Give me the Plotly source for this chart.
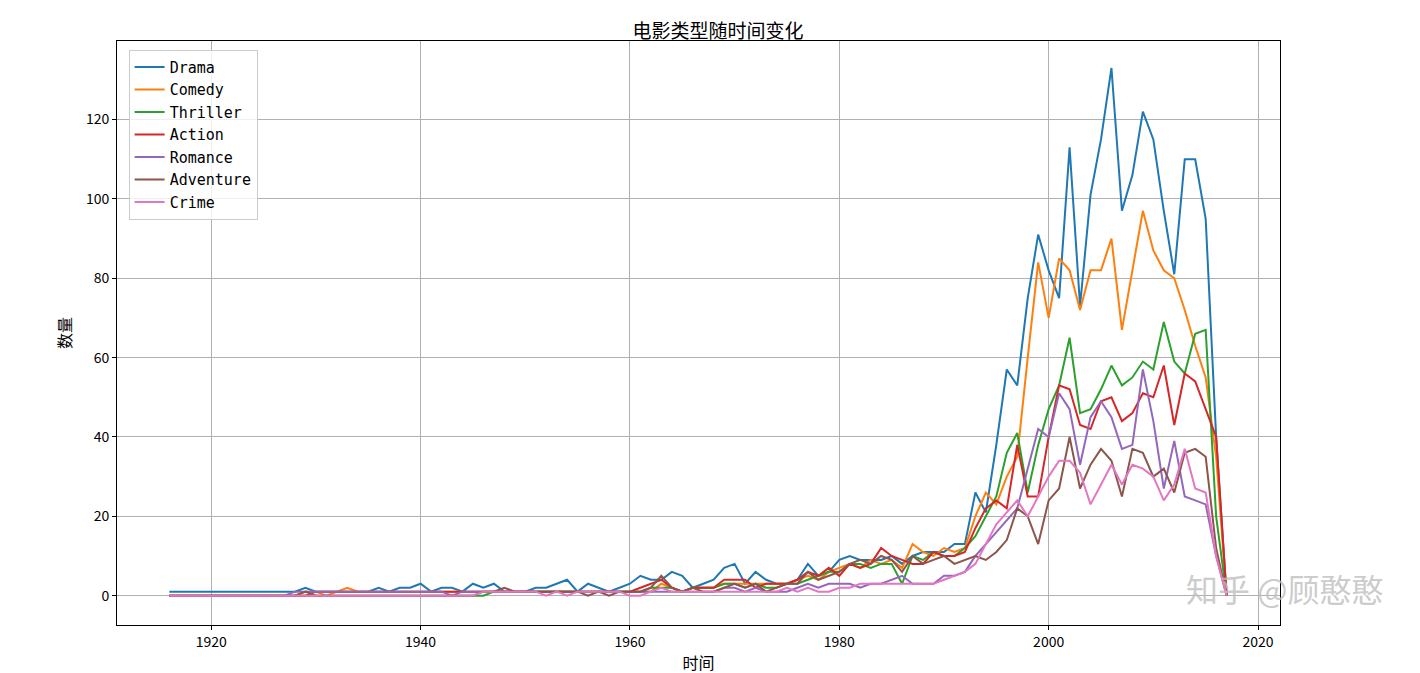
import plotly.graph_objects as go

years = list(range(1916, 2018))

drama_early = [1,1,1,1,1,1,1,1,1,1,1,1,1,2,1,1,1,1,1,1,2,1,2,2,3,1,2,2,1,3,2,3,1,1,1,2,2,3,4,1,3,2,1,2,3,5,4,4,6,5,2,3,4,7,8,3,6,4,3,3,4,8,5,6,9,10,9,9,9,10,8,10,11,11,11,13,13]
comedy_early = [0,0,0,0,0,0,0,0,0,0,0,0,0,1,1,0,1,2,1,1,1,1,1,1,1,1,1,1,1,1,1,1,1,1,1,1,1,1,1,1,1,1,1,1,1,1,1,3,2,1,2,2,2,3,3,3,3,3,3,3,4,5,4,6,7,8,7,9,8,9,7,13,11,10,12,11,12]
thriller_early = [0,0,0,0,0,0,0,0,0,0,0,0,0,0,0,0,0,0,0,0,0,0,0,0,0,0,0,0,0,0,0,1,1,1,1,1,1,1,1,1,1,1,1,1,1,1,2,2,2,1,2,2,2,3,3,2,3,2,2,3,3,4,5,6,6,8,8,7,8,8,3,10,9,11,10,10,12]
action_early = [0,0,0,0,0,0,0,0,0,0,0,0,0,0,1,1,1,1,1,1,1,1,1,1,1,1,1,1,1,1,1,1,1,1,1,1,1,1,1,1,1,1,1,1,1,2,3,4,2,1,2,2,2,4,4,4,2,3,3,3,4,6,5,7,5,8,7,8,12,10,9,8,8,11,10,10,11]
romance_early = [0,0,0,0,0,0,0,0,0,0,0,0,1,1,1,1,1,1,1,1,1,1,1,1,1,1,1,0,1,1,1,1,1,1,1,1,1,1,1,1,1,1,1,1,1,1,1,1,1,1,1,1,1,2,2,1,2,1,1,1,2,3,2,3,3,3,2,3,3,4,5,3,3,3,5,5,6]
adventure_early = [0,0,0,0,0,0,0,0,0,0,0,0,0,1,0,0,0,0,0,0,0,0,0,0,0,0,0,0,0,0,1,1,2,1,1,1,1,1,1,1,0,1,0,1,1,1,2,5,2,1,2,1,1,2,3,2,3,1,2,3,3,6,4,5,6,8,9,8,10,9,6,10,8,9,10,8,9]
crime_early = [0,0,0,0,0,0,0,0,0,0,0,0,0,0,0,0,0,0,0,0,0,0,0,0,0,0,0,0,0,0,1,1,1,1,1,1,0,1,0,1,1,1,1,1,0,0,1,2,1,1,1,1,1,1,1,1,1,1,1,2,1,2,1,1,2,2,3,3,3,3,3,3,3,3,4,5,6]

drama_late = [26,21,38,57,53,75,91,82,75,113,73,101,115,133,97,106,122,115,97,81,110,110,95,40,0]
comedy_late = [20,26,23,30,35,60,84,70,85,82,72,82,82,90,67,82,97,87,82,80,72,63,55,35,0]
thriller_late = [15,20,25,36,41,26,38,47,53,65,46,47,52,58,53,55,59,57,69,59,56,66,67,20,0]
action_late = [17,22,24,22,38,25,25,40,53,52,43,42,49,50,44,46,51,50,58,43,56,54,47,40,0]
romance_late = [10,13,16,19,22,32,42,40,51,47,33,45,49,45,37,38,57,44,27,39,25,24,23,10,0]
adventure_late = [10,9,11,14,22,20,13,24,27,40,27,33,37,34,25,37,36,30,32,26,36,37,35,12,0]
crime_late = [8,13,18,21,24,20,25,30,34,34,31,23,28,33,28,33,32,30,24,28,37,27,26,10,0]

names = ["Drama", "Comedy", "Thriller", "Action", "Romance", "Adventure", "Crime"]
series = [drama_early + drama_late, comedy_early + comedy_late, thriller_early + thriller_late,
          action_early + action_late, romance_early + romance_late,
          adventure_early + adventure_late, crime_early + crime_late]
colors = ["#1f77b4", "#ff7f0e", "#2ca02c", "#d62728", "#9467bd", "#8c564b", "#e377c2"]

fig = go.Figure()
for n, s, c in zip(names, series, colors):
    fig.add_trace(go.Scatter(x=years, y=s, name=n, mode="lines", line=dict(color=c, width=2)))

font = "Noto Sans CJK SC, DejaVu Sans"
axis = dict(showgrid=True, gridcolor="#b0b0b0", gridwidth=1, showline=True, linecolor="black",
            mirror=True, ticks="outside", ticklen=4, tickcolor="black", zeroline=False,
            tickfont=dict(size=14, color="black"))
fig.update_layout(
    width=1420, height=673, plot_bgcolor="white", paper_bgcolor="white",
    margin=dict(l=109, r=148, t=33, b=56),
    font=dict(family=font, color="black"),
    title=dict(text="电影类型随时间变化", x=0.5, xanchor="center", y=0.975, font=dict(size=19)),
    xaxis=dict(axis, range=[1911, 2022.1], tickvals=[1920, 1940, 1960, 1980, 2000, 2020],
               title=dict(text="时间", font=dict(size=16), standoff=8)),
    yaxis=dict(axis, range=[-7.4, 139.8], tickvals=[0, 20, 40, 60, 80, 100, 120],
               title=dict(text="数量", font=dict(size=16), standoff=10)),
    legend=dict(x=0.01, y=0.985, xanchor="left", yanchor="top", bordercolor="#cccccc",
                borderwidth=1, bgcolor="rgba(255,255,255,0.8)", font=dict(size=15, family="DejaVu Sans Mono, " + font)),
    annotations=[dict(text="知乎 @顾憨憨", xref="paper", yref="paper", x=1.09, y=0.02,
                      showarrow=False, font=dict(size=32, color="rgba(190,190,190,0.8)"), xanchor="right")],
)
fig.write_html("out.html")
